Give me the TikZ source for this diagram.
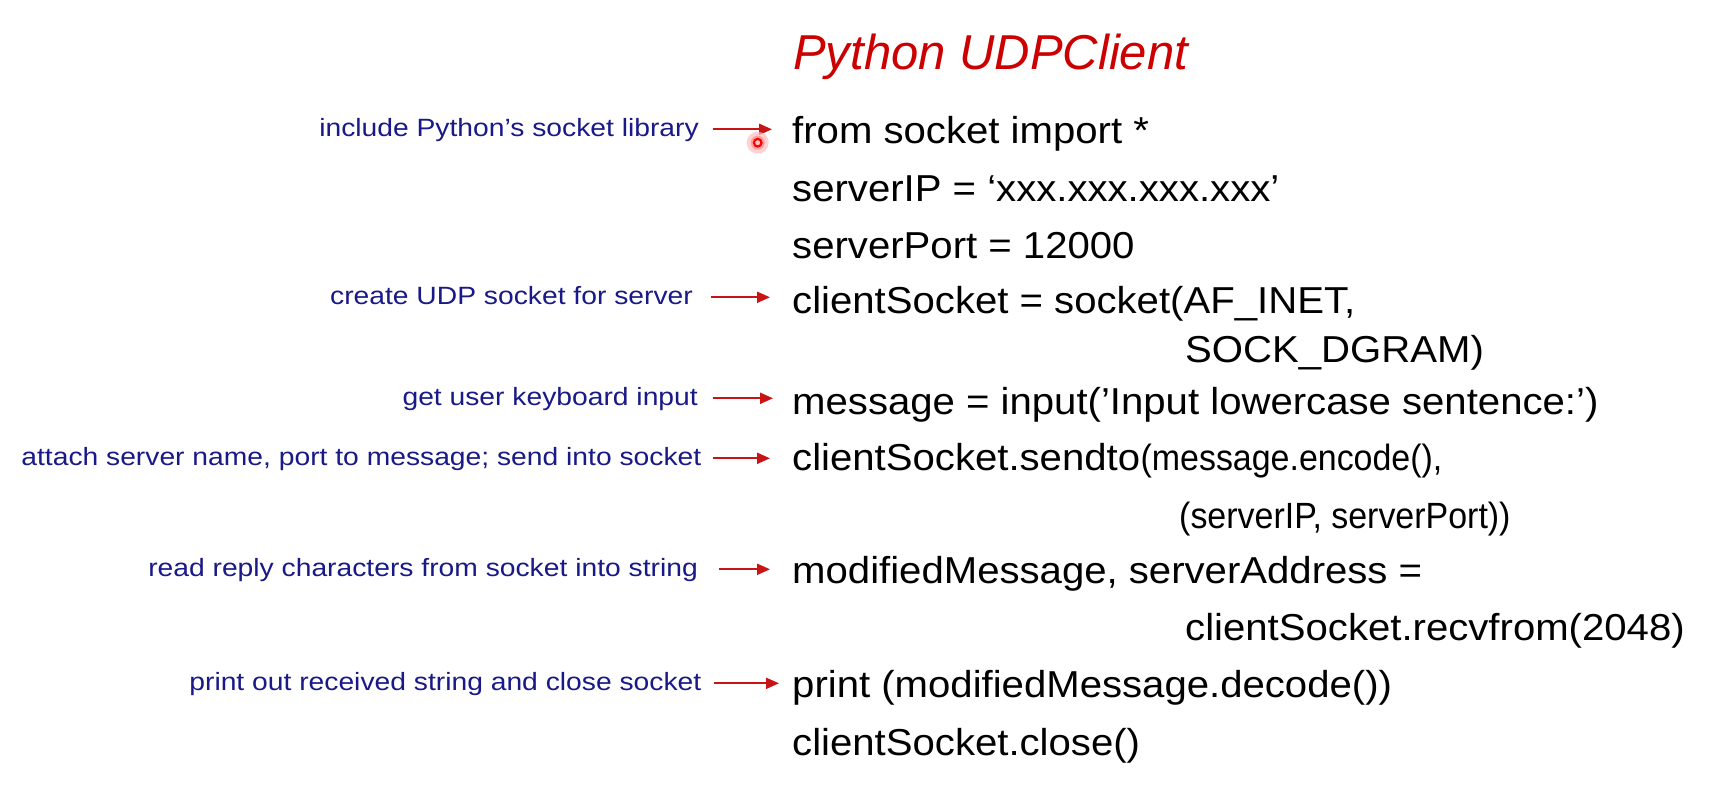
\documentclass[tikz,border=0pt]{standalone}
\usepackage{fontspec}
\setmainfont{Liberation Sans}
\newfontfamily\codef[FakeStretch=1.07]{Liberation Sans}
\newfontfamily\codeg[FakeStretch=0.93]{Liberation Sans}
\newfontfamily\annf[FakeStretch=1.13]{Liberation Sans}
\usetikzlibrary{arrows.meta}
\definecolor{titlered}{RGB}{204,0,0}
\definecolor{arrred}{RGB}{200,20,20}
\definecolor{annblue}{RGB}{25,25,135}
\begin{document}
\begin{tikzpicture}[x=1pt,y=-1pt,
  code/.style={anchor=base west,inner sep=0pt,font={\codef\fontsize{37.5}{40}\selectfont}},
  codesm/.style={anchor=base west,inner sep=0pt,font={\codeg\fontsize{36.5}{40}\selectfont}},
  ann/.style={anchor=base east,inner sep=0pt,text=annblue,font={\annf\fontsize{25}{28}\selectfont}},
  arr/.style={draw=arrred,line width=2pt,-{Triangle[length=13pt,width=11pt]}},
  ttl/.style={anchor=base west,inner sep=0pt,text=titlered,font={\itshape\fontsize{49}{52}\selectfont}}]
\fill[white] (0,0) rectangle (1720,789);
\useasboundingbox (0,0) rectangle (1720,789);

% title
\node[ttl] (title) at (793,70) {Python UDPClient};

% code
\node[code] (c1) at (792,143.5) {from socket import *};
\node[code] (c2) at (792,201) {serverIP = ‘xxx.xxx.xxx.xxx’};
\node[code] (c3) at (792,258) {serverPort = 12000};
\node[code] (c4) at (792,313.5) {clientSocket = socket(AF\_INET,};
\node[code] (c5) at (1185,362) {SOCK\_DGRAM)};
\node[code] (c6) at (792,414.5) {message = input(’Input lowercase sentence:’)};
\node[code] (c7) at (792,470) {clientSocket.sendto};
\node[codesm] (c7b) at (c7.base east) {(message.encode(),};
\node[codesm] (c8) at (1179,528.5) {(serverIP, serverPort))};
\node[code] (c9) at (792,583) {modifiedMessage, serverAddress =};
\node[code] (c10) at (1185,640.5) {clientSocket.recvfrom(2048)};
\node[code] (c11) at (792,697) {print (modifiedMessage.decode())};
\node[code] (c12) at (792,755) {clientSocket.close()};

% annotations
\node[ann] (a1) at (699,136.5) {include Python’s socket library};
\node[ann] (a2) at (693,304.5) {create UDP socket for server};
\node[ann] (a3) at (698,405.5) {get user keyboard input};
\node[ann] (a4) at (701.5,465.5) {attach server name, port to message; send into socket};
\node[ann] (a5) at (698,576.5) {read reply characters from socket into string};
\node[ann] (a6) at (701.5,690.5) {print out received string and close socket};

% arrows
\coordinate (s1) at ([xshift=13.7pt,yshift=7.2pt]a1.base east);
\coordinate (s2) at ([xshift=18pt,yshift=7.2pt]a2.base east);
\coordinate (s3) at ([xshift=14.7pt,yshift=7.2pt]a3.base east);
\coordinate (s4) at ([xshift=11.2pt,yshift=7.2pt]a4.base east);
\coordinate (s5) at ([xshift=21pt,yshift=7.2pt]a5.base east);
\coordinate (s6) at ([xshift=12.5pt,yshift=7.2pt]a6.base east);
\draw[arr,shorten >=20pt] (s1) -- (s1 -| c1.west);
\draw[arr,shorten >=22pt] (s2) -- (s2 -| c4.west);
\draw[arr,shorten >=19pt] (s3) -- (s3 -| c6.west);
\draw[arr,shorten >=22pt] (s4) -- (s4 -| c7.west);
\draw[arr,shorten >=22pt] (s5) -- (s5 -| c9.west);
\draw[arr,shorten >=13pt] (s6) -- (s6 -| c11.west);

% pointer dot
\fill[red!25,opacity=0.7] (757.7,142.7) circle (11);
\fill[red!45,opacity=0.7] (757.7,142.7) circle (7);
\draw[red,line width=2.2pt,fill=red!20] (757.7,142.7) circle (3.8);
\end{tikzpicture}
\end{document}
